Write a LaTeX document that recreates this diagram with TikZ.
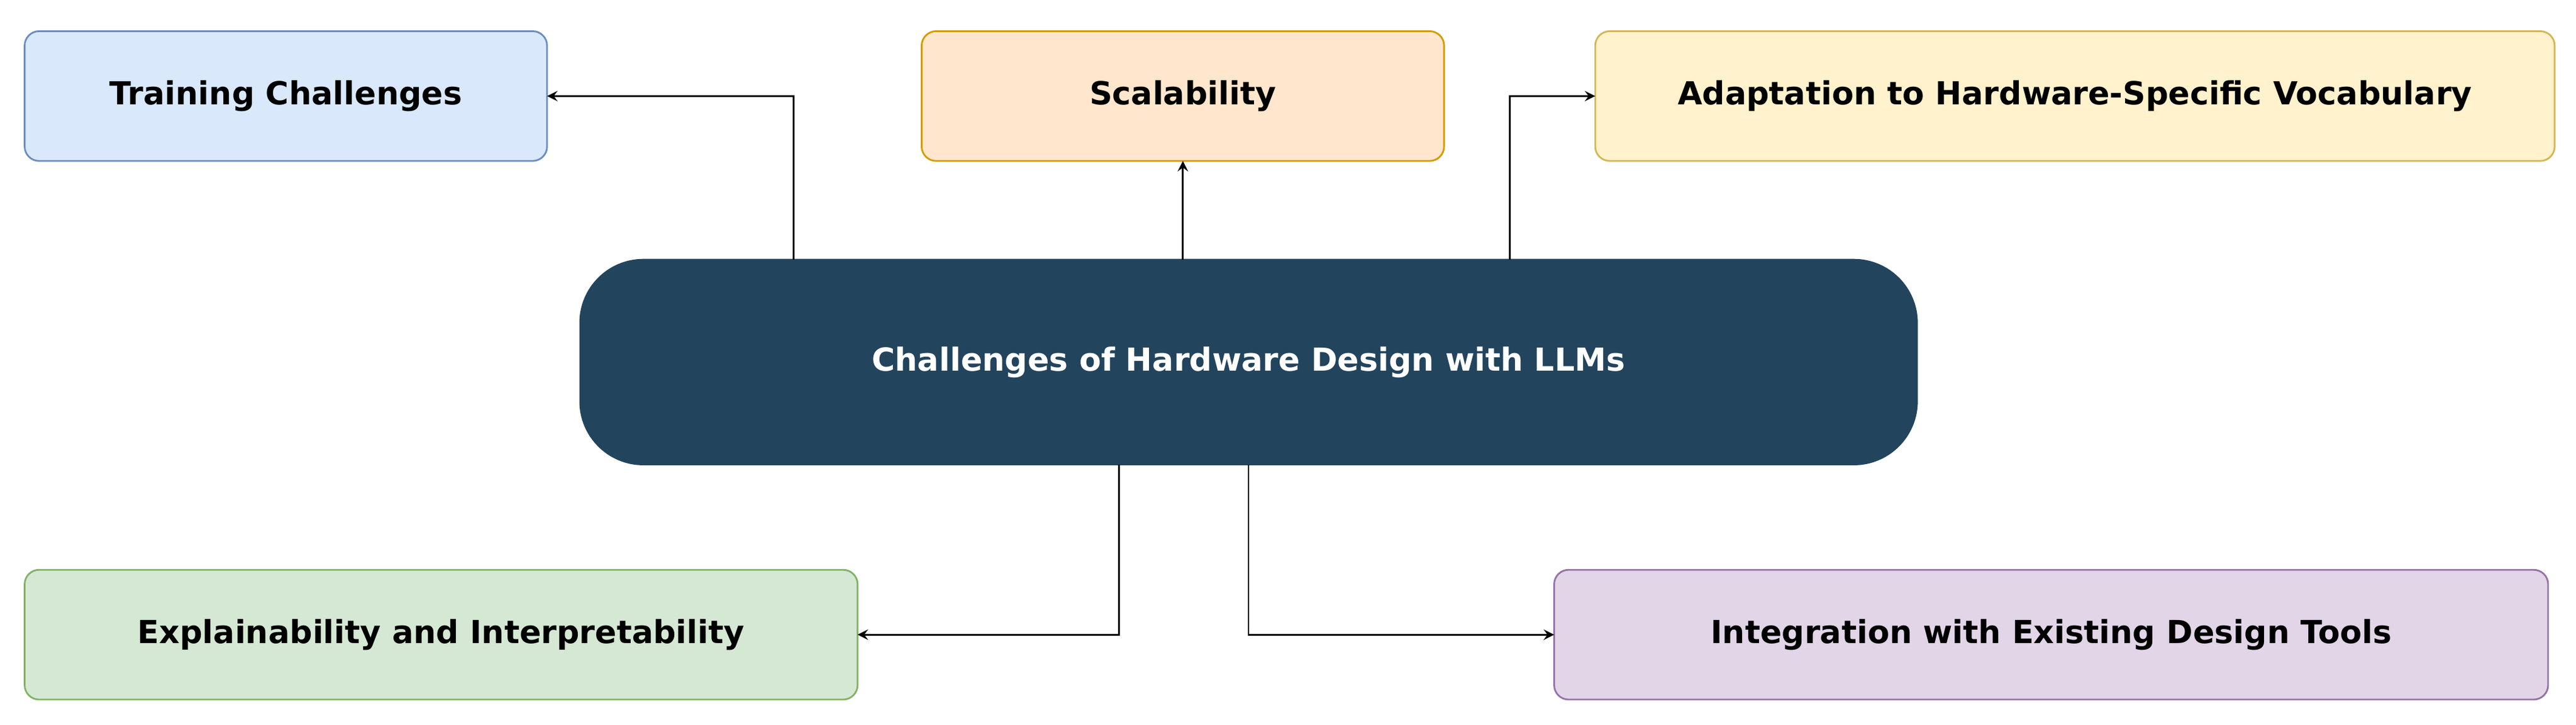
\documentclass[tikz,border=0pt]{standalone}
\usepackage{fontspec}
\setmainfont{DejaVu Sans}
\begin{document}
\begin{tikzpicture}[x=0.02cm,y=-0.02cm,
 box/.style={draw,rounded corners=5pt,line width=0.6pt,font=\bfseries\fontsize{11}{13}\selectfont},
 arr/.style={-stealth,line width=0.6pt}]
\useasboundingbox (0,0) rectangle (1568,441.5);
\definecolor{c1f}{HTML}{DAE8FC}\definecolor{c1d}{HTML}{6C8EBF}
\definecolor{c2f}{HTML}{FFE6CC}\definecolor{c2d}{HTML}{D79B00}
\definecolor{c3f}{HTML}{FFF2CC}\definecolor{c3d}{HTML}{D6B656}
\definecolor{c4f}{HTML}{D5E8D4}\definecolor{c4d}{HTML}{82B366}
\definecolor{c5f}{HTML}{E1D5E7}\definecolor{c5d}{HTML}{9673A6}
\definecolor{cc}{HTML}{23445D}
\path[box,fill=c1f,draw=c1d] (15,19) rectangle (333,98); \node[font=\bfseries\fontsize{11}{13}\selectfont] (t) at (174,58.5) {Training Challenges};
\path[box,fill=c2f,draw=c2d] (561,19) rectangle (879,98); \node[font=\bfseries\fontsize{11}{13}\selectfont] (s) at (720,58.5) {Scalability};
\path[box,fill=c3f,draw=c3d] (971,19) rectangle (1555,98); \node[font=\bfseries\fontsize{11}{13}\selectfont] (a) at (1263,58.5) {Adaptation to Hardware-Specific Vocabulary};
\path[box,fill=c4f,draw=c4d] (15,347) rectangle (522,426); \node[font=\bfseries\fontsize{11}{13}\selectfont] (e) at (268.5,386.5) {Explainability and Interpretability};
\path[box,fill=c5f,draw=c5d] (946,347) rectangle (1551,426); \node[font=\bfseries\fontsize{11}{13}\selectfont] (i) at (1248.5,386.5) {Integration with Existing Design Tools};
\path[fill=cc,draw=cc,rounded corners=22pt] (353,158) rectangle (1167,283);
\node[text=white,font=\bfseries\fontsize{11}{13}\selectfont] (c) at (760,220.5) {Challenges of Hardware Design with LLMs};
\coordinate (ct1) at (483,158); \coordinate (ct2) at (720,158); \coordinate (ct3) at (919,158);
\coordinate (cb1) at (681,283); \coordinate (cb2) at (760,283);
\coordinate (tE) at (333,58.5); \coordinate (sS) at (720,98); \coordinate (aW) at (971,58.5);
\coordinate (eE) at (522,386.5); \coordinate (iW) at (946,386.5);
\draw[arr] (ct1) |- (tE);
\draw[arr] (ct2) -- (sS);
\draw[arr] (ct3) |- (aW);
\draw[arr] (cb1) |- (eE);
\draw[arr] (cb2) |- (iW);
\end{tikzpicture}
\end{document}
